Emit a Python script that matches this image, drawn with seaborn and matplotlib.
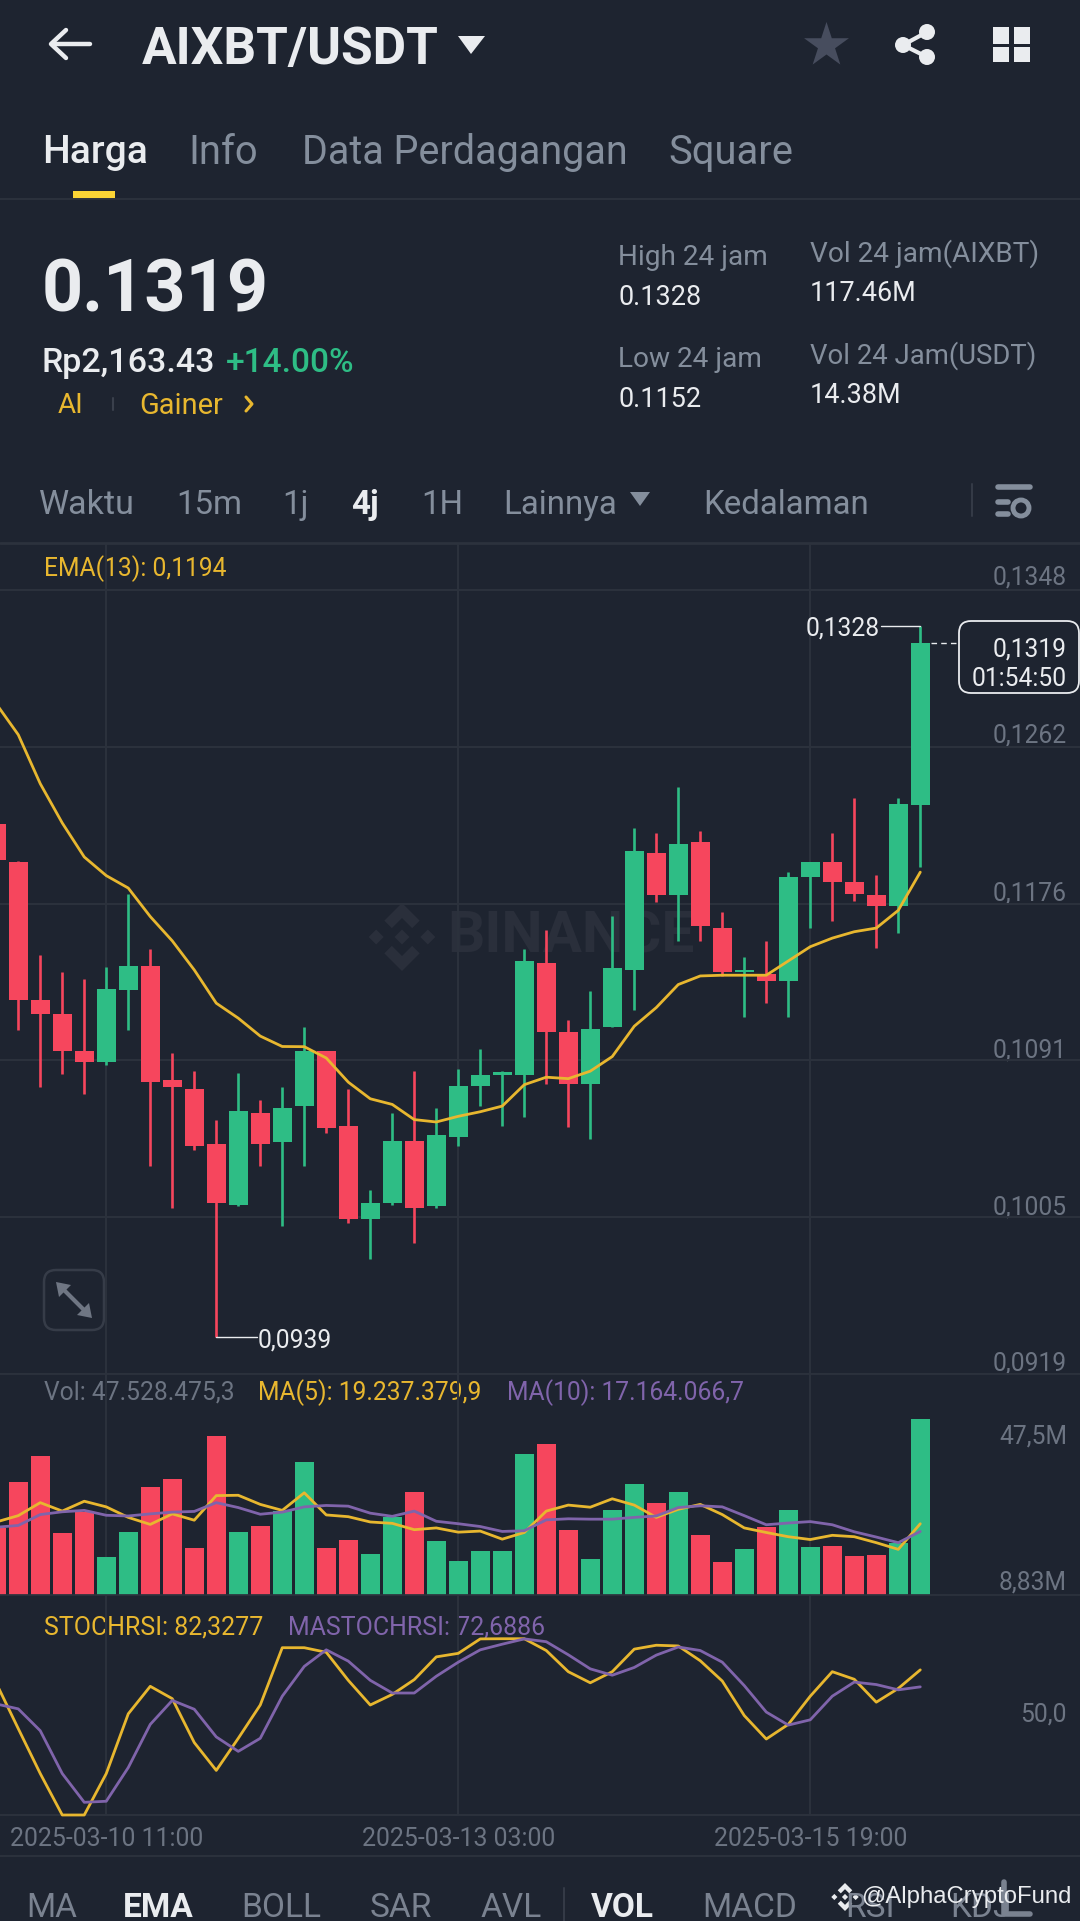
import matplotlib
matplotlib.use('Agg')
import matplotlib.pyplot as plt
from matplotlib.patches import FancyBboxPatch, Polygon, Circle, Rectangle
import numpy as np
import pandas as pd
import seaborn as sns

# candles, first one is cut off by the left edge
directions = list("RRRRRGGRRRRGRGGRRGGRGGGGGRRGGGRGRRGRGGRRRGG")
highs = [.12201, .11999, .11480, .11389, .11349, .11418, .11819, .11518, .10948, .10848, .10578,
         .10839, .10687, .10758, .11088, .10959, .10747, .10197, .10616, .10848, .10647, .10859,
         .10968, .10846, .11518, .11620, .11128, .11288, .11698, .12180, .12151, .12401, .12161,
         .11718, .11470, .11560, .11938, .11991, .12151, .12342, .11923, .12342, .13283]
body_tops = [.12201, .11990, .11239, .11159, .10959, .11299, .11420, .11420, .10798, .10747, .10447,
             .10627, .10618, .10647, .10959, .10959, .10547, .10126, .10467, .10467, .10496, .10767,
             .10828, .10840, .11449, .11440, .11060, .11077, .11409, .12049, .12040, .12090, .12100,
             .11632, .11403, .11376, .11909, .11991, .11991, .11882, .11809, .12311, .13191]
body_bots = [.12003, .11239, .11159, .10959, .10899, .10899, .11290, .10789, .10760, .10438, .10126,
             .10117, .10447, .10458, .10658, .10538, .10037, .10037, .10126, .10097, .10108, .10487,
             .10767, .10828, .10828, .11060, .10779, .10779, .11091, .11399, .11809, .11809, .11642,
             .11390, .11390, .11339, .11339, .11909, .11882, .11819, .11751, .11751, .12301]
lows = [.12003, .11070, .10760, .10829, .10720, .10880, .11070, .10328, .10097, .10418, .09390,
        .10108, .10328, .09999, .10328, .10509, .10017, .09817, .10117, .09908, .10097, .10438,
        .10658, .10547, .10598, .10779, .10541, .10478, .11091, .11181, .11770, .11560, .11560,
        .11366, .11142, .11220, .11142, .11630, .11671, .11780, .11520, .11601, .11962]
ema13 = [.12857, .12688, .12420, .12205, .12019, .11917, .11849, .11693, .11560, .11401, .11219,
         .11137, .11039, .10982, .10981, .10919, .10787, .10696, .10665, .10582, .10569, .10600,
         .10625, .10656, .10773, .10814, .10806, .10847, .10927, .11093, .11195, .11321, .11368,
         .11372, .11372, .11372, .11450, .11528, .11575, .11610, .11630, .11727, .11936]

volume = [18.11, 30.44, 37.55, 16.69, 22.38, 10.15, 16.97, 29.11, 31.39, 12.71, 42.86, 16.97, 18.68,
          22.57, 35.85, 12.71, 14.98, 11.00, 21.15, 27.88, 14.70, 9.20, 11.95, 11.95, 38.03, 40.78,
          17.64, 9.77, 22.95, 29.97, 24.85, 27.88, 16.12, 8.82, 12.42, 18.40, 23.04, 12.90, 13.18,
          10.53, 10.72, 14.13, 47.53]
vol_ma5 = [19.72, 21.43, 24.94, 22.66, 25.32, 23.80, 20.96, 19.06, 21.91, 20.20, 26.84, 26.93, 24.47,
           22.85, 27.60, 21.62, 21.15, 19.72, 19.35, 17.64, 18.11, 16.97, 17.26, 15.08, 16.88, 22.66,
           24.28, 23.71, 25.98, 24.28, 20.96, 23.14, 24.47, 21.72, 18.11, 16.88, 15.74, 14.98, 16.12,
           15.74, 14.13, 12.33, 19.24]
vol_ma10 = [18.30, 18.78, 21.72, 22.47, 22.85, 21.53, 21.34, 21.91, 22.38, 22.57, 24.94, 23.61, 21.81,
            22.38, 23.80, 24.18, 23.99, 22.10, 21.24, 22.66, 19.91, 19.25, 18.49, 17.16, 17.35, 20.29,
            20.58, 20.48, 20.48, 20.96, 21.34, 23.61, 24.09, 23.80, 21.43, 18.97, 19.44, 19.82, 18.97,
            17.07, 15.65, 14.13, 17.16]

stoch = [74.8, 49.0, 23.5, 0, 0, 23.5, 57.4, 73.0, 66.0, 41.1, 25.3, 43.5, 62.4, 94.9, 94.9, 92.3,
         76.4, 62.4, 68.4, 76.8, 89.7, 91.7, 99.9, 100, 100, 93.3, 81.3, 75.0, 81.3, 94.1, 96.3, 95.9,
         87.5, 76.0, 56.4, 43.1, 51.4, 67.4, 81.3, 77.0, 64.0, 71.8, 82.33]
ma_stoch = [63.0, 60.2, 47.8, 23.5, 7.2, 7.8, 26.9, 51.4, 65.0, 60.0, 44.3, 36.1, 43.5, 67.4, 84.3,
            93.7, 87.3, 76.4, 69.2, 69.2, 78.7, 86.7, 93.7, 96.9, 99.9, 98.3, 90.9, 82.9, 79.3, 83.7,
            90.7, 95.3, 93.3, 86.7, 73.4, 58.4, 51.0, 54.0, 67.4, 75.4, 74.0, 71.0, 72.69]

time_ticks = [4, 20, 36]
time_labels = ["2025-03-10 11:00", "2025-03-13 03:00", "2025-03-15 19:00"]
price_ticks = [.1348, .12622, .11764, .10906, .10048, .0919]
price_labels = ["0,1348", "0,1262", "0,1176", "0,1091", "0,1005", "0,0919"]

BG = "#1e2430"
GRID = "#2c323d"
GREEN = "#2ebd85"
RED = "#f6465d"
YELLOW = "#e8b72f"
PURPLE = "#8064ab"
GRAY = "#848e9c"
AXIS_GRAY = "#6c7482"
WHITE = "#eaecef"
LINE_W = 2.0

sns.set_theme(style="dark")
plt.rcParams['font.family'] = ['Roboto', 'DejaVu Sans']

fig = plt.figure(figsize=(10.8, 19.21), dpi=100, facecolor=BG)
W, H = 1080, 1921

# screen layer, pixel coordinates, sits under the chart panels
ui = fig.add_axes([0, 0, 1, 1], zorder=0)
ui.set_xlim(0, W)
ui.set_ylim(H, 0)
ui.axis("off")


def txt(x, y, s, px, color=GRAY, ha="left", weight="normal"):
    ui.text(x, y + px * 0.1, s, fontsize=px * 0.72, color=color, ha=ha, va="center", fontweight=weight)


def panel(top, bottom):
    ax = fig.add_axes([0, 1 - bottom / H, 1, (bottom - top) / H], zorder=1)
    ax.patch.set_alpha(0)
    ax.set_xlim(-0.83, 48.26)
    ax.set_xticks(time_ticks)
    ax.grid(True, axis="x", color=GRID, lw=1.4)
    ax.tick_params(length=0, labelleft=False, labelbottom=False)
    for side in ax.spines:
        ax.spines[side].set_visible(False)
    return ax


def logo(cx, cy, r, color):
    for dx in (-0.76, 0, 0.76):
        pts = [(dx, -0.22), (dx + 0.22, 0), (dx, 0.22), (dx - 0.22, 0)]
        ui.add_patch(Polygon([(cx + a * r, cy + b * r) for a, b in pts], color=color, lw=0))
    for sgn in (-1, 1):
        pts = [(0, -1), (0.52, -0.48), (0.3, -0.26), (0, -0.56), (-0.3, -0.26), (-0.52, -0.48)]
        ui.add_patch(Polygon([(cx + a * r, cy + sgn * b * r) for a, b in pts], color=color, lw=0))


# header
ui.plot([52, 90], [44, 44], color=WHITE, lw=3.2)
ui.plot([66, 51, 66], [30, 44, 58], color=WHITE, lw=3.2)
txt(142, 45, "AIXBT/USDT", 51.5, WHITE, weight="bold")
ui.add_patch(Polygon([(458, 36), (485, 36), (471, 54)], color=WHITE, lw=0))
ui.scatter([826], [45], marker="*", s=1150, color="#474d5e", lw=0)
ui.plot([927, 903, 927], [32, 45, 57], color=WHITE, lw=3)
for cx, cy in [(927, 32), (903, 45), (927, 57)]:
    ui.add_patch(Circle((cx, cy), 8, color=WHITE, lw=0))
for x0, y0, w, h in [(993, 27, 16, 17), (1014, 27, 16, 17), (993, 47, 16, 15), (1014, 47, 16, 15)]:
    ui.add_patch(Rectangle((x0, y0), w, h, color=WHITE, lw=0))

txt(42, 149, "Harga", 39, WHITE, weight="medium")
txt(188, 149, "Info", 40)
txt(302, 149, "Data Perdagangan", 39.5)
txt(668, 149, "Square", 40)
ui.add_patch(Rectangle((73, 191), 42, 8, color="#fcd535", lw=0))
ui.plot([0, W], [199, 199], color=GRID, lw=1.4)

txt(42, 285, "0.1319", 72, WHITE, weight="bold")
txt(41, 360, "Rp2,163.43", 34, WHITE, weight="medium")
txt(226, 360, "+14.00%", 33.5, GREEN, weight="medium")
txt(58, 403, "AI", 28, YELLOW)
ui.plot([113, 113], [398, 410], color="#3a404c", lw=1.5)
txt(139, 403, "Gainer", 29, YELLOW)
ui.plot([246, 252, 246], [397, 404, 411], color=YELLOW, lw=2.2)

txt(618, 255, "High 24 jam", 28)
txt(618, 295, "0.1328", 27, WHITE)
txt(618, 357, "Low 24 jam", 28)
txt(618, 397, "0.1152", 27, WHITE)
txt(810, 251, "Vol 24 jam(AIXBT)", 28)
txt(810, 291, "117.46M", 27, WHITE)
txt(810, 353, "Vol 24 Jam(USDT)", 27.5)
txt(810, 393, "14.38M", 27, WHITE)

# interval row
txt(39, 502, "Waktu", 34)
txt(176, 502, "15m", 33)
txt(282, 502, "1j", 33)
txt(351, 502, "4j", 33, WHITE, weight="bold")
txt(421, 502, "1H", 33)
txt(503, 502, "Lainnya", 33)
ui.add_patch(Polygon([(630, 492), (650, 492), (640, 506)], color=GRAY, lw=0))
txt(703, 502, "Kedalaman", 33)
ui.plot([972, 972], [484, 516], color="#343a46", lw=1.5)
ui.plot([998, 1030], [487, 487], color=GRAY, lw=4)
ui.plot([998, 1008], [502, 502], color=GRAY, lw=4)
ui.plot([998, 1008], [514, 514], color=GRAY, lw=4)
ui.add_patch(Circle((1021, 508), 8, fill=False, ec=GRAY, lw=3.5))
ui.plot([0, W], [543, 543], color=GRID, lw=2)

# watermark under the candles
logo(402, 937, 34, "#2a2f3b")
ui.text(447, 937, "BINANCE", fontsize=42, color="#2a2f3b", ha="left", va="center", fontweight="bold")

# price panel labels
txt(44, 566, "EMA(13): 0,1194", 24.6, YELLOW)
for label, y in zip(price_labels, [575, 733, 891, 1048, 1205, 1361]):
    txt(1067, y, label, 24.6, AXIS_GRAY, ha="right")
ui.add_patch(FancyBboxPatch((959, 621), 120, 72, boxstyle="round,pad=0,rounding_size=12",
                            fc=BG, ec=WHITE, lw=1.3))
txt(1067, 647, "0,1319", 24.6, WHITE, ha="right")
txt(1067, 677, "01:54:50", 24.6, WHITE, ha="right")
ui.add_patch(FancyBboxPatch((44, 1270), 60, 60, boxstyle="round,pad=0,rounding_size=12",
                            fc=BG, ec="#363c48", lw=1.8))
ui.plot([60, 88], [1286, 1314], color="#6f7683", lw=3)
ui.add_patch(Polygon([(56, 1282), (71, 1285), (59, 1297)], color="#6f7683", lw=0))
ui.add_patch(Polygon([(92, 1318), (77, 1315), (89, 1303)], color="#6f7683", lw=0))

# candles
x = np.arange(-1, len(directions) - 1)
colors = [GREEN if d == "G" else RED for d in directions]
price_ax = panel(543, 1374)
price_ax.set_ylim(.09195, .13737)
price_ax.set_yticks(price_ticks)
price_ax.grid(True, axis="y", color=GRID, lw=1.4)
price_ax.spines["bottom"].set_visible(True)
price_ax.spines["bottom"].set_color(GRID)
price_ax.set_axisbelow(True)
price_ax.vlines(x, lows, highs, colors=colors, lw=1.9, zorder=2)
price_ax.bar(x, np.array(body_tops) - np.array(body_bots), bottom=body_bots, width=0.877,
             color=colors, lw=0, zorder=3)
sns.lineplot(x=x, y=ema13, color=YELLOW, lw=LINE_W, ax=price_ax, zorder=4)
price_ax.set_xlim(-0.83, 48.26)

# high / low / last markers
price_ax.plot([39.2, 41], [highs[-1], highs[-1]], color=WHITE, lw=1, zorder=4)
price_ax.plot([9, 10.85], [lows[10], lows[10]], color=WHITE, lw=1, zorder=4)
price_ax.plot([41.5, 42.75], [body_tops[-1], body_tops[-1]], color=WHITE, lw=1, ls=(0, (4, 3)), zorder=4)
price_ax.annotate("0,1328", (39.15, highs[-1]), xytext=(0, -2), textcoords="offset points", fontsize=17.7,
                  color=WHITE, ha="right", va="center", zorder=6)
price_ax.annotate("0,0939", (10.9, lows[10]), xytext=(0, -2), textcoords="offset points", fontsize=17.7,
                  color=WHITE, ha="left", va="center", zorder=6)

# volume panel
vol_df = pd.DataFrame({"x": x, "volume": volume, "direction": directions})
vol_ax = panel(1374, 1595)
sns.barplot(data=vol_df, x="x", y="volume", hue="direction", palette={"G": GREEN, "R": RED},
            native_scale=True, dodge=False, width=0.877, saturation=1, legend=False,
            errorbar=None, linewidth=0, ax=vol_ax, zorder=2)
sns.lineplot(x=x, y=vol_ma5, color=YELLOW, lw=LINE_W, ax=vol_ax, zorder=4)
sns.lineplot(x=x, y=vol_ma10, color=PURPLE, lw=LINE_W, ax=vol_ax, zorder=5)
vol_ax.set_xlim(-0.83, 48.26)
vol_ax.set_ylim(0, 59.68)
vol_ax.set_xticks(time_ticks)
vol_ax.set_xlabel("")
vol_ax.set_ylabel("")
vol_ax.tick_params(length=0, labelleft=False, labelbottom=False)
vol_ax.set_axisbelow(True)
vol_ax.spines["bottom"].set_visible(True)
vol_ax.spines["bottom"].set_color(GRID)
txt(44, 1390, "Vol: 47.528.475,3", 24.6, AXIS_GRAY)
txt(258, 1390, "MA(5): 19.237.379,9", 24.6, YELLOW)
txt(507, 1390, "MA(10): 17.164.066,7", 24.6, PURPLE)
txt(1067, 1434, "47,5M", 24.6, AXIS_GRAY, ha="right")
txt(1067, 1580, "8,83M", 24.6, AXIS_GRAY, ha="right")

# stochastic rsi panel
stoch_ax = panel(1595, 1815)
sns.lineplot(x=x, y=stoch, color=YELLOW, lw=LINE_W, ax=stoch_ax, clip_on=False, zorder=4)
sns.lineplot(x=x, y=ma_stoch, color=PURPLE, lw=LINE_W, ax=stoch_ax, clip_on=False, zorder=5)
stoch_ax.set_xlim(-0.83, 48.26)
stoch_ax.set_ylim(0, 124.8)
stoch_ax.set_ylabel("")
stoch_ax.set_xticks(time_ticks, time_labels)
stoch_ax.tick_params(length=0, labelleft=False, labelbottom=True, labelsize=17.9,
                     labelcolor=AXIS_GRAY, pad=8.5)
stoch_ax.spines["bottom"].set_visible(True)
stoch_ax.spines["bottom"].set_color(GRID)
stoch_ax.spines["bottom"].set_linewidth(1.4)
txt(44, 1625, "STOCHRSI: 82,3277", 24.9, YELLOW)
txt(288, 1625, "MASTOCHRSI: 72,6886", 24.9, PURPLE)
txt(1067, 1712, "50,0", 24.6, AXIS_GRAY, ha="right")
ui.plot([0, W], [1856, 1856], color=GRID, lw=1.4)

# indicator tabs
for label, left, on in [("MA", 26, False), ("EMA", 123, True), ("BOLL", 241, False), ("SAR", 370, False),
                        ("AVL", 481, False), ("VOL", 591, True), ("MACD", 702, False), ("RSI", 845, False),
                        ("KDJ", 950, False)]:
    txt(left, 1905, label, 33.5, WHITE if on else "#7a8290", weight="bold" if on else "normal")
ui.plot([564, 564], [1888, 1921], color="#343a46", lw=1.5)
ui.plot([1004, 1004, 1030], [1882, 1914, 1914], color="#7a8290", lw=4)
logo(845, 1897, 14, WHITE)
ui.text(861, 1897, "@AlphaCryptoFund", fontsize=17.2, color=WHITE, ha="left", va="center",
        family=["Liberation Sans", "DejaVu Sans"])

fig.savefig("out.png", dpi=100, facecolor=BG)
plt.close()
